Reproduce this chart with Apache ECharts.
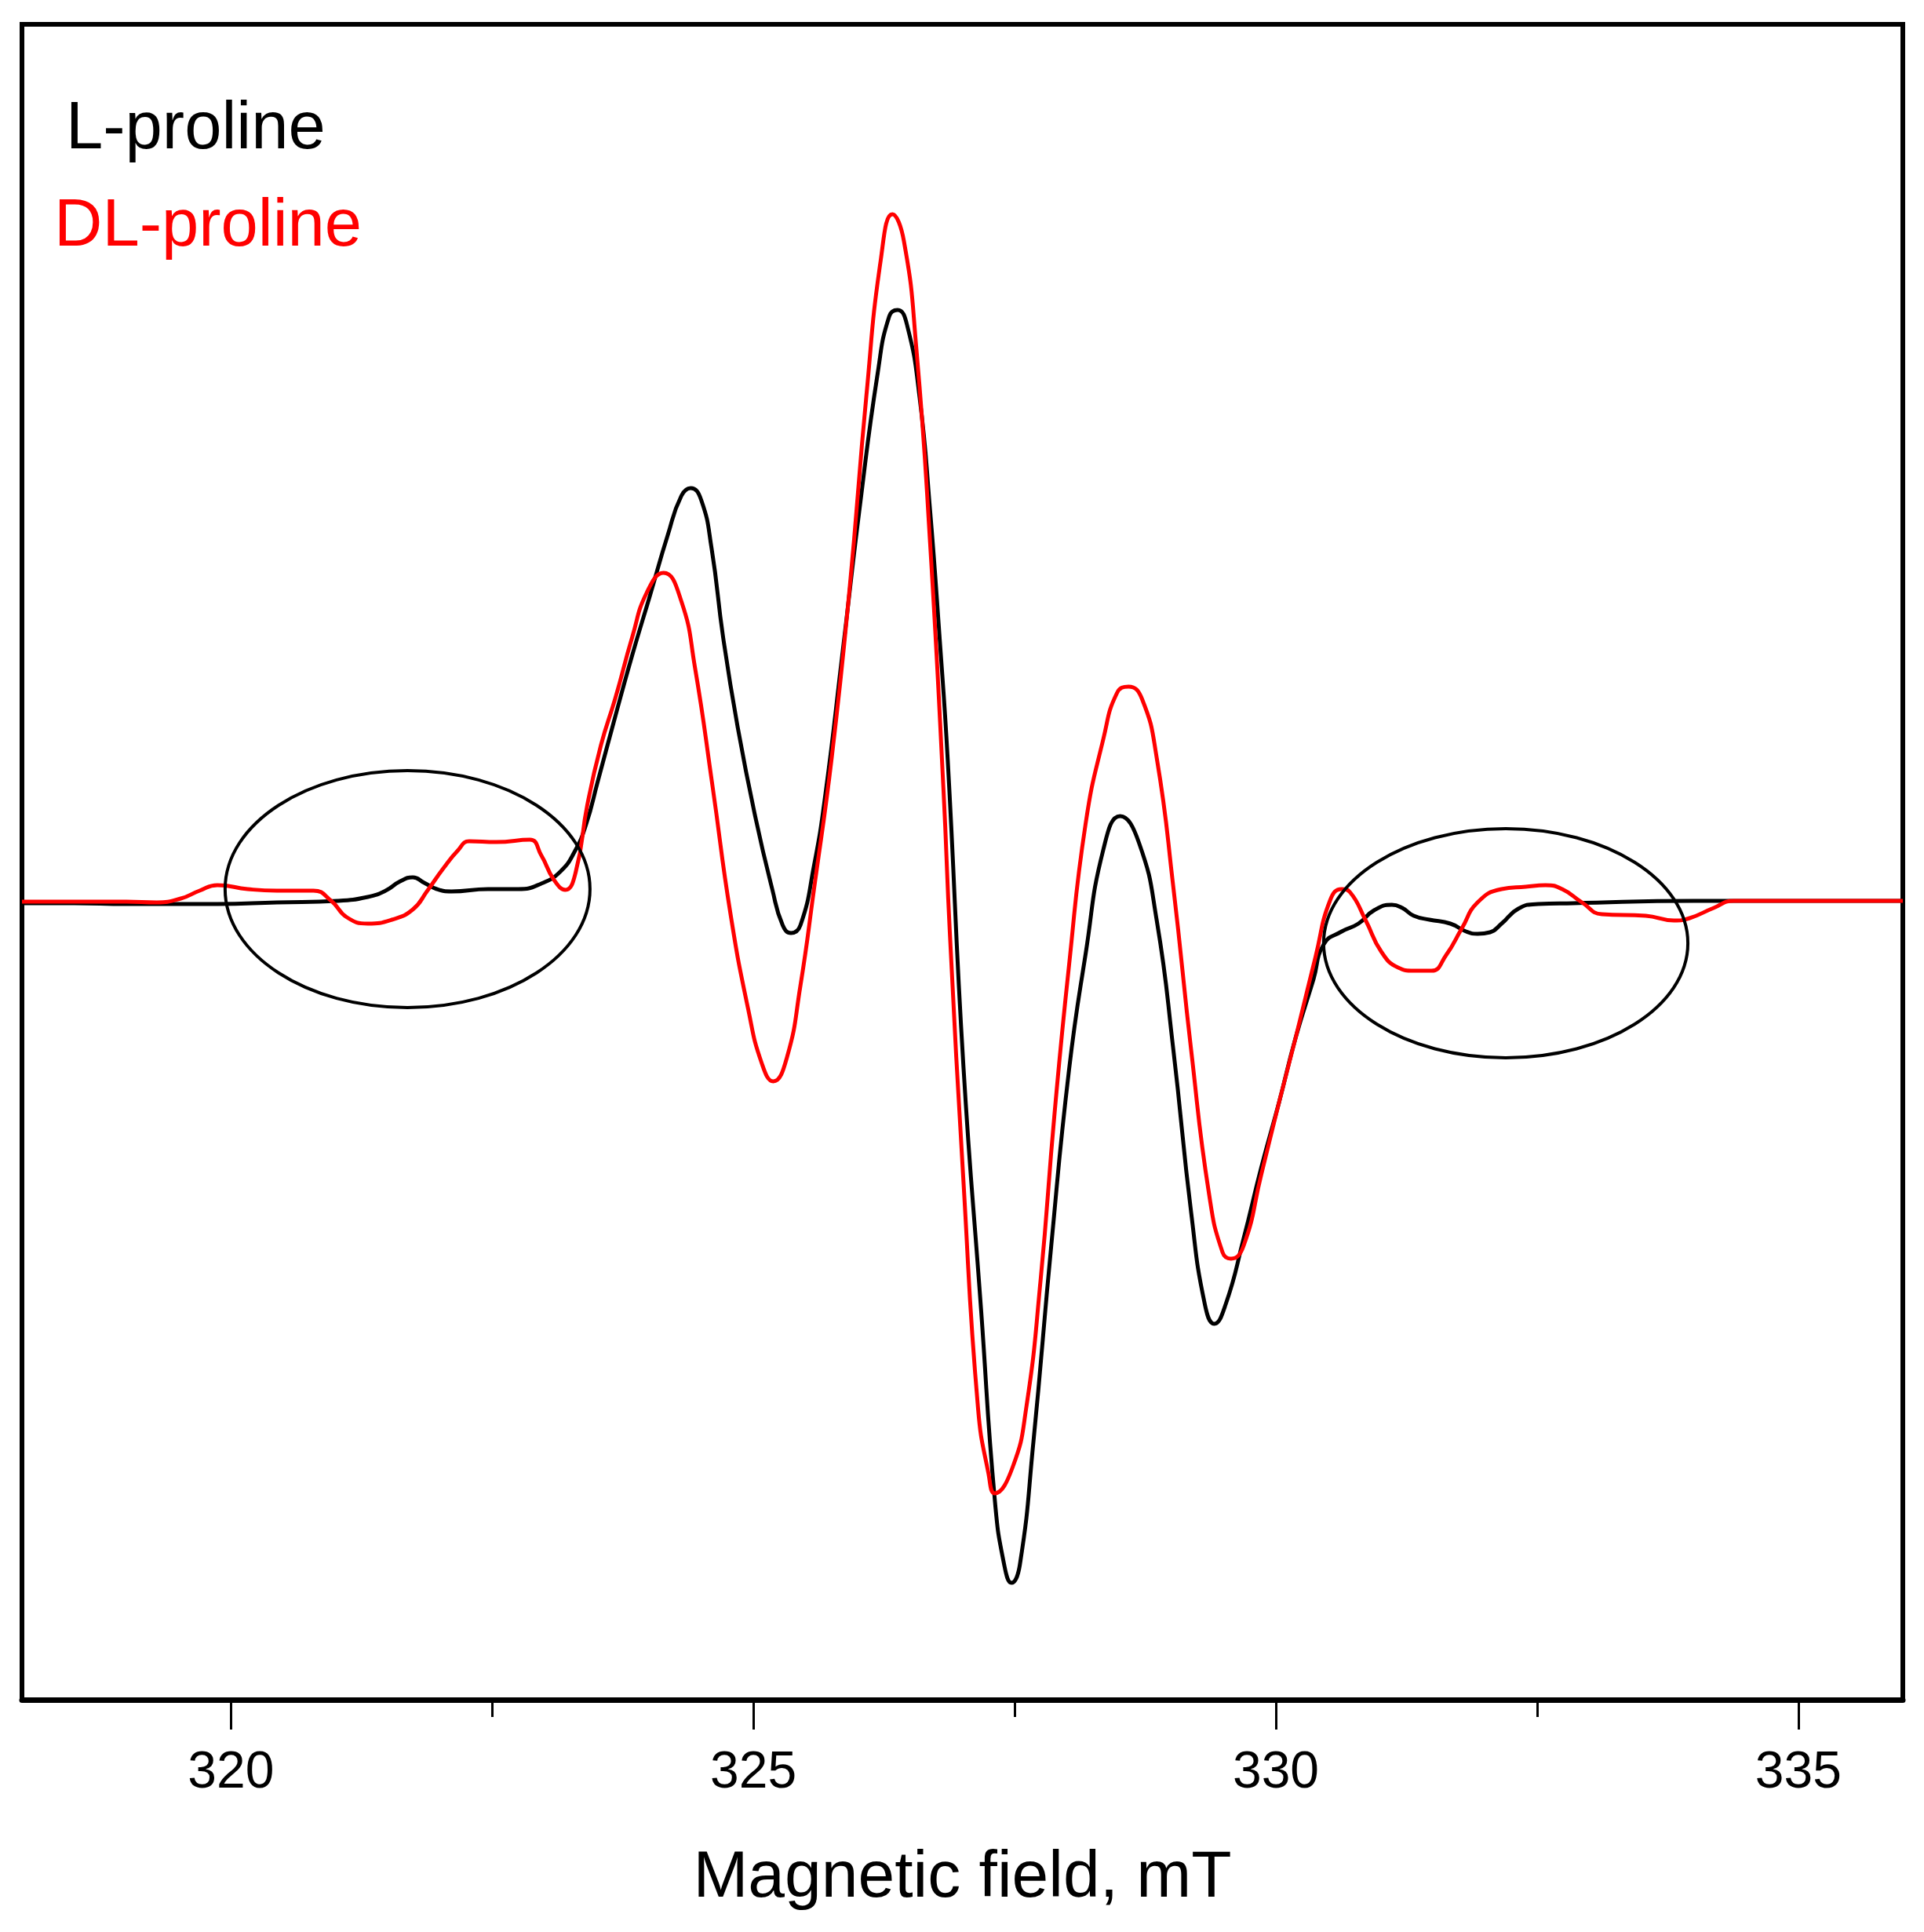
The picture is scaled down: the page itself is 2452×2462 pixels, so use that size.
<!DOCTYPE html>
<html><head><meta charset="utf-8">
<script src="https://cdn.jsdelivr.net/npm/echarts@6/dist/echarts.min.js"></script>
<style>html,body{margin:0;padding:0;background:#fff}#c{width:2452px;height:2462px}</style>
</head><body><div id="c"></div>
<script>
// L-proline (black)
const lField = [318.0,318.5,319.0,319.29,319.87,320.44,321.02,321.31,321.48,321.62,321.74,321.85,321.97,322.11,322.46,322.75,322.97,323.15,323.29,323.40,323.51,323.68,323.84,324.01,324.18,324.31,324.40,324.50,324.60,324.71,324.85,325.02,325.18,325.28,325.36,325.45,325.58,325.69,325.85,326.02,326.19,326.30,326.38,326.47,326.59,326.69,326.78,326.86,327.01,327.18,327.31,327.40,327.47,327.55,327.68,327.85,328.02,328.18,328.35,328.51,328.69,328.86,329.02,329.19,329.32,329.41,329.52,329.69,329.86,330.03,330.19,330.36,330.46,330.63,330.79,330.94,331.11,331.21,331.32,331.47,331.67,331.82,331.93,332.05,332.16,332.32,332.51,332.85,334.0,335.0,336.0];
const lSignal = [-0.2,-0.2,-0.3,-0.3,-0.3,-0.1,0.1,0.6,1.4,2.6,3.1,2.4,1.6,1.3,1.6,1.6,2.3,3.8,6.4,9.9,15.3,23.7,31.4,39.0,46.7,51.7,52.7,51.2,45.0,33.7,22.2,10.7,1.6,-3.0,-4.0,-3.0,4.6,13.8,31.4,50.5,67.4,74.6,75.4,73.5,64.3,50.0,34.0,18.0,-21.0,-52.2,-76.2,-84.5,-86.8,-84.5,-68.8,-43.9,-21.5,-6.6,6.7,10.9,7.5,-2.4,-19.0,-39.7,-51.3,-53.8,-51.3,-43.0,-33.9,-25.6,-17.3,-9.9,-5.4,-3.8,-2.8,-1.1,-0.4,-0.8,-1.8,-2.3,-2.8,-3.8,-4.1,-3.9,-2.8,-0.9,-0.3,-0.2,0.1,0.1,0.1];
// DL-proline (red)
const dlField = [318.0,319.0,319.29,319.52,319.70,319.87,320.16,320.44,320.79,320.96,321.11,321.31,321.54,321.74,321.88,322.03,322.17,322.28,322.54,322.86,322.97,323.09,323.20,323.30,323.41,323.54,323.68,323.84,323.98,324.14,324.31,324.44,324.61,324.78,324.95,325.08,325.19,325.32,325.45,325.58,325.75,325.92,326.08,326.22,326.33,326.44,326.56,326.69,326.82,326.88,327.01,327.15,327.25,327.31,327.48,327.61,327.75,327.88,328.02,328.18,328.35,328.48,328.59,328.72,328.86,329.02,329.19,329.36,329.49,329.57,329.69,329.86,330.03,330.19,330.38,330.52,330.63,330.71,330.86,331.01,331.17,331.32,331.49,331.63,331.78,331.93,332.16,332.39,332.58,332.74,332.93,333.12,333.54,333.81,333.96,334.19,334.38,335.0,336.0];
const dlSignal = [0.0,0.0,-0.1,0.4,1.4,2.1,1.6,1.4,1.4,0.1,-2.0,-2.8,-2.3,-1.0,1.4,4.2,6.5,7.7,7.6,7.9,5.9,2.8,1.5,3.8,12.3,19.9,26.0,33.7,39.4,41.9,38.3,29.9,14.6,-1.5,-13.7,-20.6,-22.9,-19.9,-10.7,1.6,18.4,39.8,64.3,81.9,87.6,84.2,70.4,45.9,14.0,-4.0,-35.6,-64.6,-72.9,-75.4,-72.1,-64.6,-48.0,-27.3,-8.2,10.0,20.8,26.6,27.4,25.8,18.3,1.7,-19.0,-37.2,-44.7,-45.5,-43.9,-34.8,-25.6,-17.3,-7.0,0.2,1.6,1.2,-2.4,-6.4,-8.4,-8.8,-8.8,-6.8,-3.4,-0.1,1.6,1.9,2.1,1.6,-0.1,-1.6,-1.8,-2.4,-2.1,-0.8,0.1,0.1,0.1];
// annotation ellipses: centre field, centre signal, half-width (mT), half-height (signal units)
const ellipseCx = [321.69, 332.20];
const ellipseCy = [1.6, -5.3];
const ellipseRx = [1.746, 1.743];
const ellipseRy = [15.1, 14.6];
const majorTicks = [320, 325, 330, 335];
const minorTicks = [322.5, 327.5, 332.5];
const seriesNames = ['L-proline', 'DL-proline'];

const zip = (a, b) => a.map((v, i) => [v, b[i]]);
const ellipseData = ellipseCx.map((v, i) => [v, ellipseCy[i], ellipseRx[i], ellipseRy[i]]);
const FONT = '"Liberation Sans", Arial, sans-serif';

const chart = echarts.init(document.getElementById('c'), null, {renderer: 'canvas'});
chart.setOption({
  animation: false,
  backgroundColor: '#fff',
  grid: {left: 28, right: 27, top: 31, bottom: 296, show: true, borderColor: '#000', borderWidth: 6, backgroundColor: 'transparent'},
  xAxis: [{
    type: 'value', min: 318, max: 336, position: 'bottom',
    axisLine: {show: true, onZero: false, lineStyle: {color: '#000', width: 7}},
    axisTick: {show: true, inside: false, length: 38, customValues: majorTicks, lineStyle: {color: '#000', width: 3}},
    axisLabel: {show: true, customValues: majorTicks, fontSize: 66, fontFamily: FONT, color: '#000', margin: 61},
    splitLine: {show: false},
    name: 'Magnetic field, mT', nameLocation: 'middle', nameGap: 186,
    nameTextStyle: {fontSize: 84, fontFamily: FONT, color: '#000'}
  }, {
    type: 'value', min: 318, max: 336, position: 'bottom',
    axisLine: {show: false, onZero: false},
    axisTick: {show: true, inside: false, length: 22, customValues: minorTicks, lineStyle: {color: '#000', width: 3}},
    axisLabel: {show: false},
    splitLine: {show: false}
  }],
  yAxis: {
    type: 'value', min: -101.7, max: 111.8,
    axisLine: {show: false}, axisTick: {show: false}, axisLabel: {show: false}, splitLine: {show: false}
  },
  graphic: [
    {type: 'text', left: 84, top: 123, style: {text: seriesNames[0], font: '85px ' + FONT, fill: '#000'}},
    {type: 'text', left: 69, top: 247, style: {text: seriesNames[1], font: '85px ' + FONT, fill: '#ff0000'}}
  ],
  series: [{
    name: seriesNames[0], type: 'line', xAxisIndex: 0, data: zip(lField, lSignal),
    showSymbol: false, smooth: 0.5, lineStyle: {color: '#000', width: 5}, z: 2
  }, {
    name: seriesNames[1], type: 'line', xAxisIndex: 0, data: zip(dlField, dlSignal),
    showSymbol: false, smooth: 0.5, lineStyle: {color: '#ff0000', width: 5}, z: 3
  }, {
    type: 'custom', xAxisIndex: 0, data: ellipseData, z: 4,
    encode: {x: 0, y: 1},
    renderItem: function (params, api) {
      const c = api.coord([api.value(0), api.value(1)]);
      const e = api.coord([api.value(0) + api.value(2), api.value(1) + api.value(3)]);
      return {type: 'ellipse', shape: {cx: c[0], cy: c[1], rx: e[0] - c[0], ry: c[1] - e[1]},
              style: {fill: 'none', stroke: '#000', lineWidth: 4}};
    }
  }]
});
</script></body></html>
